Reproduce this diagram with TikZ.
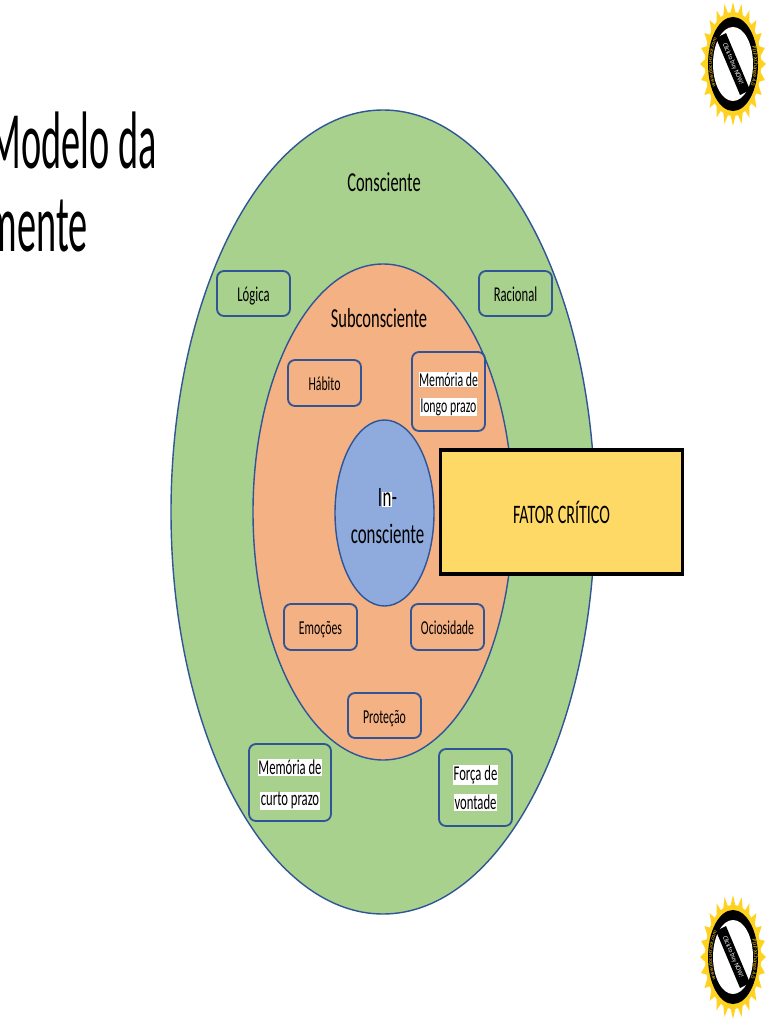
\documentclass[tikz,border=0pt]{standalone}
\usepackage{fontspec}
\setmainfont{Carlito}
\usetikzlibrary{decorations.text}
\definecolor{verde}{HTML}{A9D18E}
\definecolor{laranja}{HTML}{F4B183}
\definecolor{azul}{HTML}{8FAADC}
\definecolor{amarelo}{HTML}{FFD966}
\definecolor{contorno}{HTML}{2F5597}
\definecolor{ouro}{HTML}{FFD21F}
\setlength{\fboxsep}{.6pt}
\newcommand{\sq}[1]{\scalebox{0.6}[1]{#1}}
\newcommand{\cx}[1]{\raisebox{-5.5pt}[0pt][0pt]{\sq{#1}}}
\newcommand{\wb}[1]{\colorbox{white}{#1}}
\tikzset{
    zona/.style={draw=contorno, line width=1pt},
    caixa/.style={draw=contorno, line width=1.3pt, rounded corners=5pt, align=center, font=\fontsize{14}{18.5}\selectfont, inner sep=0pt},
    selo/.pic={
        \foreach \a in {0,15,...,345}
            \fill[ouro] (\a-7:27 and 48) -- (\a:33 and 62) -- (\a+7:27 and 48) -- cycle;
        \fill[ouro] (0,0) ellipse (28 and 52);
        \fill[black] (0,0) ellipse (25 and 47);
        \fill[white] (0,0) ellipse (20 and 37);
        \fill[black] (-17,-26) -- (-7,-31) -- (17,26) -- (7,31) -- cycle;
        \path[decorate, decoration={text along path, text align=center, text={|\fontsize{4}{4}\selectfont\color{ouro}|PDF-XChange 4.0}}]
            (0,0) ++(-60:21 and 40) arc (-60:70:21 and 40);
        \path[decorate, decoration={text along path, text align=center, text={|\fontsize{4}{4}\selectfont\color{ouro}|www.docu-track.com}}]
            (0,0) ++(110:21 and 40) arc (110:260:21 and 40);
        \node[rotate=-67, text=white, font=\fontsize{5}{5}\selectfont, inner sep=0pt] (selotexto) at (0,0) {\scalebox{.85}[1]{Click to buy NOW!}};
    }
}
\begin{document}
\begin{tikzpicture}[x=.025cm, y=-.025cm]
    \useasboundingbox (0,0) rectangle (768,1024);
    \fill[white] (0,0) rectangle (768,1024);
    \begin{scope}
        \clip (0,0) rectangle (768,1024);
        \node[anchor=base east, font=\fontsize{58}{58}\selectfont, inner sep=0pt] (titulo1) at (157,169) {\scalebox{0.47}[1]{Modelo da}};
        \node[anchor=base east, font=\fontsize{58}{58}\selectfont, inner sep=0pt] (titulo2) at (88,251) {\scalebox{0.47}[1]{mente}};
    \end{scope}
    % circulos
    \draw[zona, fill=verde] (383,512) ellipse (212 and 402);
    \draw[zona, fill=laranja] (383,512) ellipse (130 and 248);
    \draw[zona, fill=azul] (384.5,513) ellipse (49.5 and 93);
    \node[font=\fontsize{19.5}{19.5}\selectfont] (consciente) at (384,182) {\sq{Consciente}};
    \node[font=\fontsize{19.5}{19.5}\selectfont] (subconsciente) at (379,318) {\sq{Subconsciente}};
    \node[align=center, font=\fontsize{20}{26.5}\selectfont] (inconsciente) at (387.5,516) {\sq{I\wb{n}-}\\\sq{consciente}};
    % caixas
    \node[caixa, font=\fontsize{15}{15}\selectfont, minimum width=1.825cm, minimum height=1.125cm] (logica) at (253.5,293.5) {\cx{Lógica}};
    \node[caixa, font=\fontsize{15}{15}\selectfont, minimum width=1.825cm, minimum height=1.125cm] (racional) at (515.5,293.5) {\cx{Racional}};
    \node[caixa, minimum width=1.825cm, minimum height=1.15cm] (habito) at (324.5,383) {\cx{Hábito}};
    \node[caixa, minimum width=1.825cm, minimum height=1.975cm] (longo) at (448.5,391.5) {\cx{\wb{Memória de}}\\\cx{\wb{longo prazo}}};
    \node[caixa, minimum width=1.825cm, minimum height=1.15cm] (emocoes) at (320.5,627) {\cx{Emoções}};
    \node[caixa, minimum width=1.825cm, minimum height=1.15cm] (ociosidade) at (447.5,627) {\cx{Ociosidade}};
    \node[caixa, minimum width=1.825cm, minimum height=1.125cm] (protecao) at (384.5,715.5) {\cx{Proteção}};
    \node[caixa, minimum width=2.05cm, minimum height=1.925cm, font=\fontsize{15}{22}\selectfont] (curto) at (290,782.5) {\cx{\wb{Memória de}}\\\cx{\wb{curto prazo}}};
    \node[caixa, minimum width=1.825cm, minimum height=1.925cm, font=\fontsize{15}{20.5}\selectfont] (forca) at (475.5,787.5) {\cx{\wb{Força de}}\\\cx{\wb{vontade}}};
    \node[draw=black, line width=2.2pt, fill=amarelo, minimum width=6.05cm, minimum height=3.1cm, font=\fontsize{19}{19}\selectfont] (fator) at (561.5,512) {\sq{FATOR CRÍTICO}};
    % selos
    \pic at (733,64) {selo};
    \pic at (733,957) {selo};
\end{tikzpicture}
\end{document}
